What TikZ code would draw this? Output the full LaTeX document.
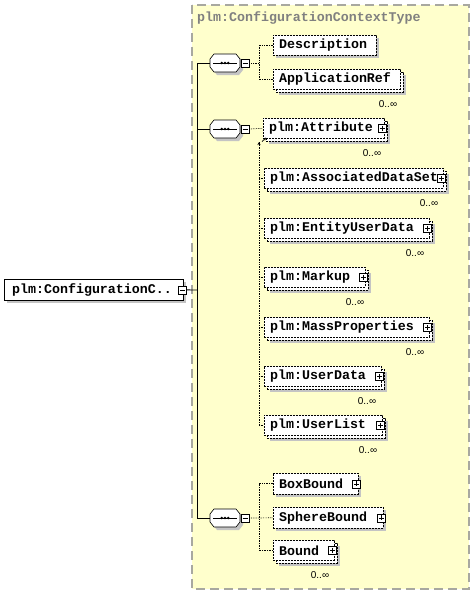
\documentclass[tikz,border=0pt]{standalone}
\usepackage{fontspec}
\setmainfont{Liberation Sans}
\newfontfamily\monofont{Liberation Mono}
\usetikzlibrary{arrows.meta,shadows}
\definecolor{cyellow}{HTML}{FFFFCC}
\definecolor{cborder}{HTML}{A8A8A0}
\definecolor{cshadow}{HTML}{C4C4C4}
\definecolor{ctitle}{HTML}{808080}
\tikzset{
  shd/.style={drop shadow={shadow xshift=3pt,shadow yshift=-3pt,fill=cshadow,opacity=1}},
  elem/.style={draw=black,dash pattern=on 2pt off 1pt,line width=0.6pt,fill=white,inner sep=0pt,anchor=north west},
  elemS/.style={elem,shd},
  lbl/.style={font=\monofont\bfseries\fontsize{13.3}{14}\selectfont,inner sep=0pt,anchor=west},
  card/.style={font=\fontsize{10}{12}\selectfont,inner sep=0pt},
  pmbox/.style={draw=black,solid,line width=0.5pt,fill=white,minimum size=8pt,inner sep=0pt},
  plusb/.style={pmbox,path picture={\draw[line width=0.5pt]
     ([xshift=1.5pt]path picture bounding box.west) -- ([xshift=-1.5pt]path picture bounding box.east)
     ([yshift=-1.5pt]path picture bounding box.north) -- ([yshift=1.5pt]path picture bounding box.south);}},
  minusb/.style={pmbox,path picture={\draw[line width=0.5pt]
     ([xshift=1.5pt]path picture bounding box.west) -- ([xshift=-1.5pt]path picture bounding box.east);}},
  seqnode/.style={inner sep=0pt,minimum width=30pt,minimum height=18pt},
  seqshape/.style={draw=black,line width=0.6pt,fill=white},
  conn/.style={densely dotted,line width=0.7pt},
  bus/.style={line width=0.8pt},
}
\newcommand\singleel[6]{%
  \node[elemS,minimum width=#4pt,minimum height=#5pt] (#1) at (#2,#3) {};
  \node[lbl] (#1t) at ([xshift=6pt]#1.west) {#6};
}
\newcommand\multiel[7]{%
  \node[elemS,minimum width=#4pt,minimum height=#5pt] (#1b) at (#2+3,#3+3) {};
  \node[elem,minimum width=#4pt,minimum height=#5pt] (#1) at (#2,#3) {};
  \node[lbl] (#1t) at ([xshift=6pt]#1.west) {#6};
  \node[card] (#1c) at (#7,#3+#5+15) {0..∞};
}
\newcommand\octa[1]{(#1)+(-11,-9) -- +(11,-9) -- +(15,-4) -- +(15,4) -- +(11,9) -- +(-11,9) -- +(-15,4) -- +(-15,-4) -- cycle}
\newcommand\seqel[3]{%
  \node[seqnode] (#1) at (#2,#3) {};
  \fill[cshadow] ([shift={(3pt,-3pt)}]#1.center)+(-11,-9) -- +(11,-9) -- +(15,-4) -- +(15,4) -- +(11,9) -- +(-11,9) -- +(-15,4) -- +(-15,-4) -- cycle;
  \path[seqshape] (#1.center)+(-11,-9) -- +(11,-9) -- +(15,-4) -- +(15,4) -- +(11,9) -- +(-11,9) -- +(-15,4) -- +(-15,-4) -- cycle;
  \draw[line width=0.7pt] ([xshift=3pt]#1.west) -- ([xshift=-3pt]#1.east);
  \fill ([xshift=-3.2pt]#1.center) circle (1.4pt) (#1.center) circle (1.4pt) ([xshift=3.2pt]#1.center) circle (1.4pt);
  \node[minusb] (#1m) at ([xshift=5pt]#1.east) {};
}
\begin{document}
\begin{tikzpicture}[x=1pt,y=-1pt]
\useasboundingbox (0,0) rectangle (474,594);
% container
\fill[cyellow] (192,5) rectangle (469,589);
\draw[cborder,line width=1.5pt,dash pattern=on 9pt off 5pt] (192,5) rectangle (469,589);
\node[lbl,text=ctitle] (title) at (197,18) {plm:ConfigurationContextType};
% root
\node[draw=black,line width=0.7pt,fill=white,inner sep=0pt,anchor=north west,minimum width=179pt,minimum height=21pt,shd] (root) at (4,279) {};
\node[lbl] (roott) at ([xshift=8pt]root.west) {plm:ConfigurationC..};
\node[minusb] (rootm) at ([xshift=-1pt]root.east) {};
% compositors
\seqel{s1}{225}{63}
\seqel{s2}{225}{129}
\seqel{s3}{225}{518}
\coordinate (bj) at (197,290);
\draw[bus] (rootm.east) -- (bj);
\draw[bus] (s1.west) -- (s1.west -| bj) -- (s3.west -| bj) -- (s3.west);
\draw[bus] (s2.west) -- (s2.west -| bj);
% group 1
\singleel{desc}{273}{35}{103}{20}{Description}
\multiel{appref}{273}{69}{127}{20}{ApplicationRef}{388}
\coordinate (g1) at (259,63);
\draw[conn] (s1m.east) -- (g1);
\draw[conn] (desc.west) -- (desc.west -| g1) -- (appref.west -| g1) -- (appref.west);
% group 2
\multiel{attr}{263}{118}{121}{20}{plm:Attribute}{372}
\multiel{assoc}{264}{168}{179}{20}{plm:AssociatedDataSet}{429}
\multiel{entity}{264}{218}{165}{20}{plm:EntityUserData}{415}
\multiel{markup}{264}{267}{101}{20}{plm:Markup}{355}
\multiel{mass}{264}{317}{165}{20}{plm:MassProperties}{415}
\multiel{userdata}{264}{366}{117}{20}{plm:UserData}{367}
\multiel{userlist}{264}{415}{118}{20}{plm:UserList}{368}
\foreach \n in {attr,assoc,entity,markup,mass,userdata,userlist}{\node[plusb] (\n p) at ([xshift=-2pt]\n.east) {};}
\draw[conn] (s2m.east) -- (attr.west);
\coordinate (g2top) at (259,142);
\coordinate (g2bot) at (259,426);
\draw[conn] (g2bot) -- (g2top);
\draw[line width=0.6pt,-{Stealth[length=3pt,width=3pt]}] ([yshift=-3pt]g2top) -- (g2top);
\draw[line width=0.6pt,-{Stealth[length=3pt,width=3pt]}] ([shift={(-1pt,-3pt)}]attr.south west) -- ([shift={(3pt,1pt)}]attr.south west);
\foreach \n in {assoc,entity,markup,mass,userdata,userlist}{\draw[conn] (\n.west -| g2top) -- (\n.west);}
% group 3
\singleel{boxbound}{273}{473}{85}{21}{BoxBound}
\singleel{sphere}{273}{507}{110}{21}{SphereBound}
\multiel{bound}{273}{540}{61}{20}{Bound}{320}
\foreach \n in {boxbound,sphere,bound}{\node[plusb] (\n p) at ([xshift=-2pt]\n.east) {};}
\coordinate (g3) at (259,518);
\draw[conn] (s3m.east) -- (sphere.west);
\draw[conn] (boxbound.west) -- (boxbound.west -| g3) -- (bound.west -| g3) -- (bound.west);
\end{tikzpicture}
\end{document}
